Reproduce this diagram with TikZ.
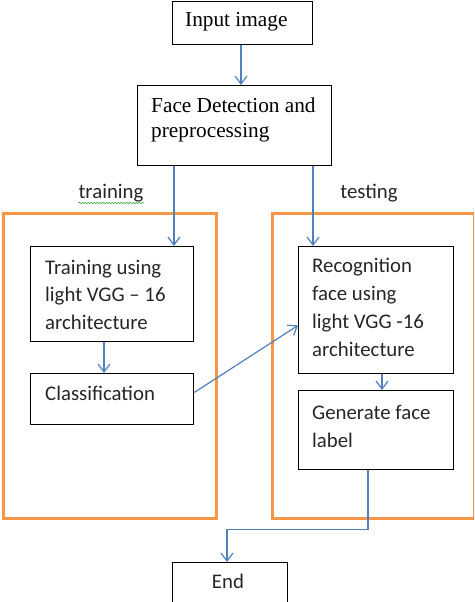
\documentclass[tikz,border=0pt]{standalone}
\usepackage{fontspec}
\setmainfont{Liberation Serif}
\newfontfamily\calib{Carlito}
\usetikzlibrary{arrows.meta,decorations.pathmorphing}
\definecolor{arrblue}{HTML}{4F81BD}
\definecolor{boxorange}{HTML}{F79646}
\definecolor{txtgray}{HTML}{262626}
\begin{document}
\begin{tikzpicture}[x=1pt,y=-1pt,
  box/.style={draw=black,line width=1.4pt,rectangle,inner sep=0pt,anchor=north west},
  group/.style={draw=boxorange,line width=3pt,rectangle,inner sep=0pt,anchor=north west},
  ctxt/.style={inner sep=0pt,anchor=base west,align=left,text=txtgray,font=\calib\fontsize{20.8}{27.7}\selectfont},
  stxt/.style={inner sep=0pt,anchor=base west,align=left,text=black,font=\fontsize{21.3}{25}\selectfont},
  arr/.style={draw=arrblue,line width=1.2pt,-{Straight Barb[length=8pt,width=12pt,line width=1.2pt]}}]
\useasboundingbox (0,0) rectangle (474,602);
\clip (0,0) rectangle (474,602);
% groups
\node[group,minimum width=213,minimum height=305] (gtrain) at (2,212) {};
\node[group,minimum width=202,minimum height=305] (gtest) at (271,212) {};
\node[inner sep=0pt,anchor=base,text=txtgray,font=\calib\fontsize{20.8}{24}\selectfont] (ltrain) at (111,198) {training};
\node[inner sep=0pt,anchor=base,text=txtgray,font=\calib\fontsize{20.8}{24}\selectfont] (ltest) at (369,198) {testing};
\draw[green!60!black!80,line width=0.6pt,decorate,decoration={snake,amplitude=0.8pt,segment length=3pt}] ([yshift=-5pt]ltrain.base west) -- ([yshift=-5pt]ltrain.base east);
% boxes (text nodes anchored at the baseline of their last line)
\node[box,minimum width=140,minimum height=43] (in) at (172,1) {};
\node[stxt] (intxt) at (185,27) {Input image};
\node[box,minimum width=194,minimum height=80] (fd) at (137,85) {};
\node[stxt] (fdtxt) at (151,137) {Face Detection and\\preprocessing};
\node[box,minimum width=163,minimum height=95] (train) at (30,246) {};
\node[ctxt] (traintxt) at (45,329.4) {Training using\\light VGG – 16\\architecture};
\node[box,minimum width=163,minimum height=51] (class) at (30,373) {};
\node[ctxt] (classtxt) at (45,400) {Classification};
\node[box,minimum width=155,minimum height=127] (rec) at (298,246) {};
\node[ctxt] (rectxt) at (312,356) {Recognition\\face using\\light VGG -16\\architecture};
\node[box,minimum width=155,minimum height=79] (gen) at (298,390) {};
\node[ctxt] (gentxt) at (312,447) {Generate face\\label};
\node[box,minimum width=115,minimum height=60] (end) at (172,562) {};
\node[ctxt,anchor=base] (endtxt) at (228,588) {End};
% connectors
\coordinate (c1) at ([xshift=69pt]in.south west);
\draw[arr] (c1) -- (c1 |- fd.north);
\coordinate (t1) at ([xshift=-20.5pt]train.north east);
\draw[arr] (t1 |- fd.south) -- (t1);
\coordinate (r1) at ([xshift=15pt]rec.north west);
\draw[arr] (r1 |- fd.south) -- (r1);
\coordinate (t2) at ([xshift=74pt]train.south west);
\draw[arr] (t2) -- (t2 |- class.north);
\draw[arr] ([yshift=33pt]class.south east) -- ([yshift=49pt]rec.south west);
\coordinate (r2) at ([xshift=84pt]rec.south west);
\draw[arr] (r2) -- (r2 |- gen.north);
\coordinate (g1) at ([xshift=70pt]gen.south west);
\coordinate (e1) at ([xshift=55pt]end.north west);
\draw[arr] (g1) -- ++(0,59) -| (e1);
\end{tikzpicture}
\end{document}
